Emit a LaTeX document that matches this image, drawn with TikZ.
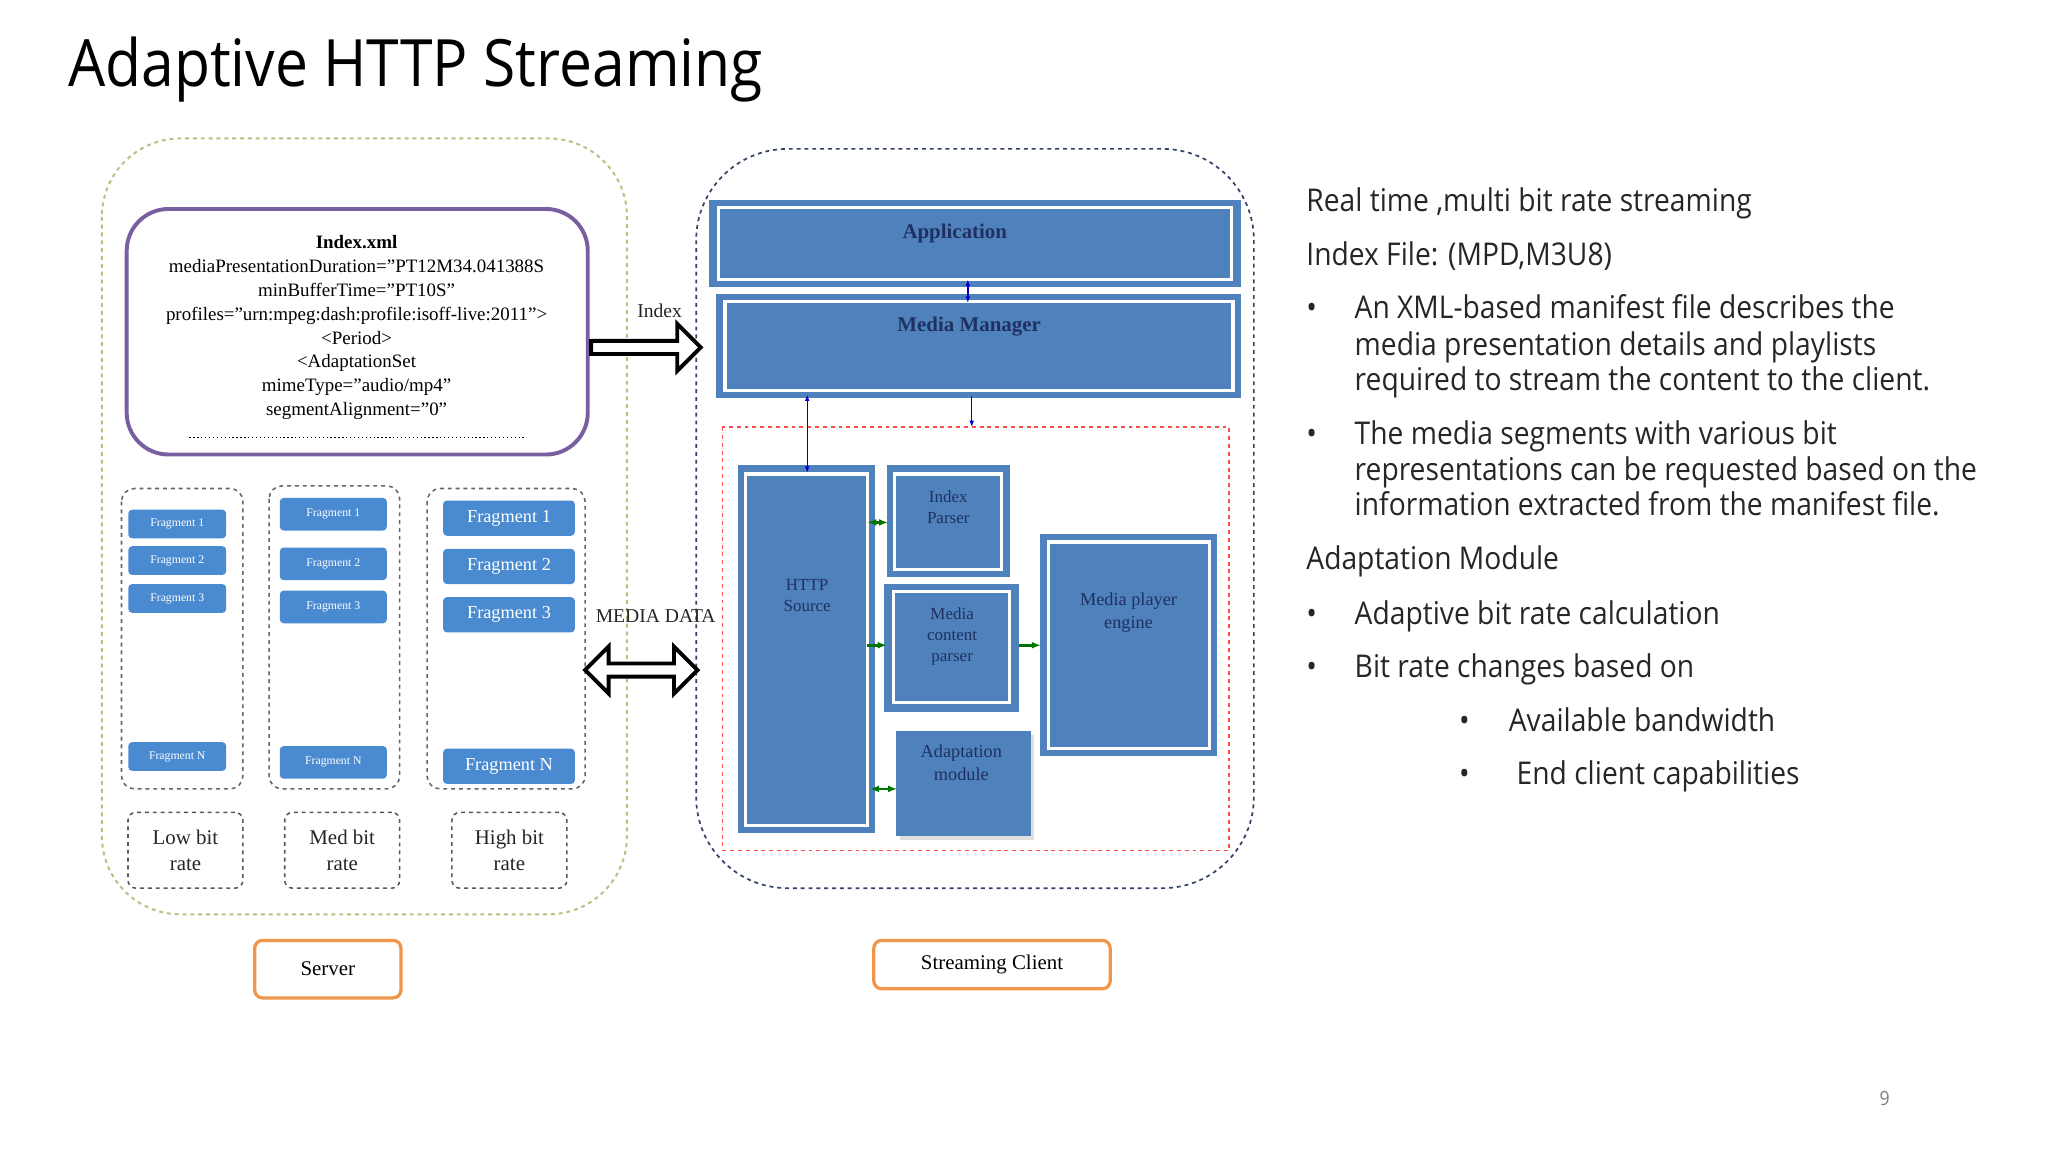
\documentclass[tikz,border=0pt]{standalone}
\usepackage{fontspec}
\setmainfont{Liberation Serif}
\newfontfamily\sansf{Open Sans}[FakeStretch=0.9]
\usetikzlibrary{shapes.arrows,arrows.meta}
\definecolor{blu}{HTML}{4F81BD}
\definecolor{navy}{HTML}{1F3160}
\definecolor{frag}{HTML}{4A8AD0}
\definecolor{olive}{HTML}{BDBD85}
\definecolor{purp}{HTML}{7A5FA0}
\definecolor{org}{HTML}{F0964A}
\definecolor{txt}{HTML}{262626}
\begin{document}
\begin{tikzpicture}[x=1pt,y=-1pt,
  inner/.style={draw=white,line width=2.5pt},
  btxt/.style={text=navy,align=center,font=\fontsize{13}{16}\selectfont},
  frg/.style={fill=frag,rounded corners=3pt,text=white,align=center},
  col/.style={draw=gray!80!black,dashed,line width=1.2pt,rounded corners=10pt},
  rate/.style={draw=gray!70!black,dashed,line width=1.2pt,rounded corners=6pt,align=center,font=\fontsize{16}{20}\selectfont,text=txt},
  lbl/.style={draw=org,line width=2.5pt,rounded corners=6pt,fill=white,font=\fontsize{16}{20}\selectfont},
  rt/.style={anchor=base west,text=txt,font=\sansf\fontsize{24}{28}\selectfont,inner sep=0},
  blar/.style={blue!80!black,line width=1pt,{Latex[length=5pt]}-{Latex[length=5pt]}},
  grar/.style={green!45!black,line width=2pt,{Latex[length=7pt]}-{Latex[length=7pt]}},
  gra/.style={green!45!black,line width=2pt,-{Latex[length=7pt]}}]
\useasboundingbox (0,0) rectangle (1568,882);
\fill[white] (0,0) rectangle (1568,882);
% title
\node[anchor=base west,inner sep=0,font=\sansf\fontsize{50}{56}\selectfont] (title) at (52,66) {Adaptive HTTP Streaming};
% server side
\draw[olive,dashed,line width=1.5pt,rounded corners=60pt] (78,106) rectangle (480,700);
\draw[purp,line width=3pt,rounded corners=32pt] (97,160) rectangle (450,348);
\node[btxt,text=black,font=\fontsize{14.5}{18.2}\selectfont,anchor=north] (idx) at (273,177) {\textbf{Index.xml}\\mediaPresentationDuration="PT12M34.041388S\\minBufferTime="PT10S"\\profiles="urn:mpeg:dash:profile:isoff-live:2011"{>}\\{<}Period{>}\\{<}AdaptationSet\\mimeType="audio/mp4"\\segmentAlignment="0"};
\draw[dotted,line width=1pt] (145,335) -- (403,335);
\draw[col] (93,374) rectangle (186,604);
\draw[col] (206,372) rectangle (306,604);
\draw[col] (327,374) rectangle (448,604);
\foreach \y/\t [count=\i] in {390/1,418/2,447/3,568/N}
  \node[frg,minimum width=75pt,minimum height=22pt,font=\fontsize{9}{10}\selectfont,anchor=north west] (a\i) at (98,\y) {Fragment \t};
\foreach \y/\t [count=\i] in {381/1,419/2,452/3,571/N}
  \node[frg,minimum width=82pt,minimum height=25pt,font=\fontsize{9}{10}\selectfont,anchor=north west] (b\i) at (214,\y) {Fragment \t};
\foreach \y/\t [count=\i] in {383/1,420/2,457/3,573/N}
  \node[frg,minimum width=101pt,minimum height=27pt,font=\fontsize{14}{16}\selectfont,anchor=north west] (c\i) at (339,\y) {Fragment \t};
\node[rate,minimum width=88pt,minimum height=58pt] (low) at (142,651) {Low bit\\rate};
\node[rate,minimum width=88pt,minimum height=58pt] (med) at (262,651) {Med bit\\rate};
\node[rate,minimum width=88pt,minimum height=58pt] (high) at (390,651) {High bit\\rate};
\node[lbl,minimum width=112pt,minimum height=44pt] (server) at (251,742) {Server};
\node[lbl,minimum width=181pt,minimum height=37pt] (client) at (759.5,738.5) {Streaming Client};
% client side
\draw[navy!80!gray,dashed,line width=1.3pt,rounded corners=70pt] (533,114) rectangle (960,680);
\fill[blu] (543,153) rectangle (950,220); \draw[inner] (550,159) rectangle (943,214);
\node[btxt,font=\bfseries\fontsize{16}{18}\selectfont] (app) at (731,179) {Application};
\fill[blu] (548,225) rectangle (950,305); \draw[inner] (555,231) rectangle (944,299);
\node[btxt,font=\bfseries\fontsize{16}{18}\selectfont] (mm) at (742,250) {Media Manager};
\draw[red!70,dashed,line width=1pt] (553,327) rectangle (941,651);
\fill[blu] (565,356) rectangle (670,638); \draw[inner] (571,363) rectangle (664,632);
\node[btxt] (http) at (618,456) {HTTP\\Source};
\fill[blu] (679,356) rectangle (773,442); \draw[inner] (685,363) rectangle (767,436);
\node[btxt] (ip) at (726,388) {Index\\Parser};
\fill[blu] (677,447) rectangle (780,545); \draw[inner] (684,453) rectangle (773,538);
\node[btxt] (mcp) at (729,487) {Media\\content\\parser};
\fill[gray!25] (689,563) rectangle (792,643);
\fill[blu] (686,560) rectangle (789,640);
\node[btxt,font=\fontsize{14}{18}\selectfont] (am) at (736,584) {Adaptation\\module};
\fill[blu] (796,409) rectangle (932,579); \draw[inner] (803,415) rectangle (926,573);
\node[btxt,font=\fontsize{14}{18}\selectfont] (mpe) at (864,469) {Media player\\engine};
% connectors
\coordinate (a1t) at (741,214); \coordinate (a1b) at (741,232);
\draw[blar] (a1t) -- (a1b);
\coordinate (h1) at (618,302); \coordinate (h2) at (618,362);
\draw[blar] (h1) -- (h2);
\coordinate (m1) at (744,303); \coordinate (m2) at (744,327);
\draw[blue!80!black,line width=1pt,-{Latex[length=5pt]}] (m1) -- (m2);
\coordinate (g1) at (664,400); \coordinate (g2) at (680,400);
\draw[grar] (g1) -- (g2);
\coordinate (g3) at (664,494); \coordinate (g4) at (679,494);
\draw[gra] (g3) -- (g4);
\coordinate (g5) at (780,494); \coordinate (g6) at (797,494);
\draw[gra] (g5) -- (g6);
\coordinate (g7) at (666,604); \coordinate (g8) at (687,604);
\draw[grar] (g7) -- (g8);
% big hollow arrows
\node[single arrow,draw=black,line width=3pt,fill=white,minimum height=84pt,minimum width=36pt,single arrow head extend=9pt,inner sep=2pt] (iarr) at (492,266) {};
\node[double arrow,draw=black,line width=3pt,fill=white,minimum height=86pt,minimum width=36pt,double arrow head extend=9pt,inner sep=2pt] (marr) at (491,513) {};
\node[font=\fontsize{15}{18}\selectfont,text=txt] (il) at (505,238) {Index};
\node[font=\fontsize{15}{18}\selectfont,text=txt] (ml) at (502,472) {MEDIA DATA};
% right text
\node[rt] (r1) at (1000,162) {Real time ,multi bit rate streaming};
\node[rt] (r2) at (1000,203) {Index File: (MPD,M3U8)};
\foreach \y in {244,340,478,519} \node[rt] at (1000,\y) {•};
\foreach \y in {560,601} \node[rt] at (1117,\y) {•};
\node[rt] at (1037,244) {An XML-based manifest file describes the};
\node[rt] at (1037,272) {media presentation details and playlists};
\node[rt] at (1037,299) {required to stream the content to the client.};
\node[rt] at (1037,340) {The media segments with various bit};
\node[rt] at (1037,368) {representations can be requested based on the};
\node[rt] at (1037,395) {information extracted from the manifest file.};
\node[rt] (r3) at (1000,436) {Adaptation Module};
\node[rt] at (1037,478) {Adaptive bit rate calculation};
\node[rt] at (1037,519) {Bit rate changes based on};
\node[rt] at (1155,560) {Available bandwidth};
\node[rt] at (1161,601) {End client capabilities};
\node[text=gray,font=\sansf\fontsize{15}{18}\selectfont] (pg) at (1443,841) {9};
\end{tikzpicture}
\end{document}
